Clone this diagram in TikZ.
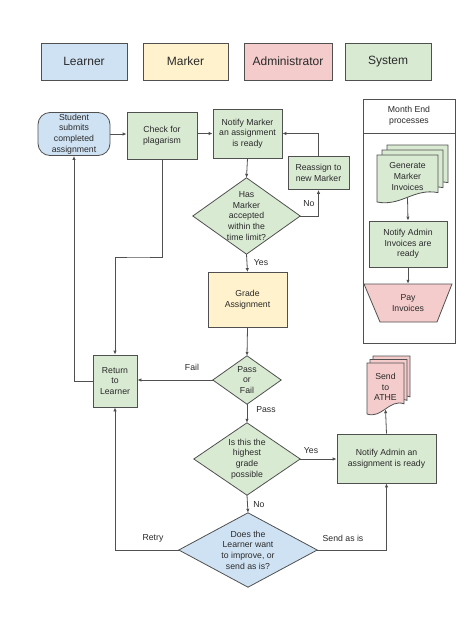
\documentclass[tikz,border=0pt]{standalone}
\usepackage{fontspec}
\setmainfont{Liberation Sans}
\usetikzlibrary{arrows.meta,calc}
\pgfdeclarelayer{bg}
\pgfsetlayers{bg,main}
\definecolor{lblue}{HTML}{CFE2F3}
\definecolor{lyellow}{HTML}{FFF2CC}
\definecolor{lred}{HTML}{F4CCCC}
\definecolor{lgreen}{HTML}{D9EAD3}
\definecolor{edgec}{HTML}{505050}
\definecolor{ink}{HTML}{2A2A2A}
\newcommand\docshape[5]{%
  \path[shp,fill=#5] ({#1},{#2}) -- ({#1+#3},{#2}) -- ({#1+#3},{#2+0.8*#4})
    .. controls ({#1+0.6*#3},{#2+0.7*#4}) and ({#1+0.4*#3},{#2+1.1*#4}) .. ({#1},{#2+#4}) -- cycle;}
\begin{document}
\begin{tikzpicture}[x=1pt,y=-1pt,
  font=\fontsize{8.7}{10.6}\selectfont, text=ink,
  shp/.style={draw=edgec,line width=0.8pt},
  legendbox/.style={draw=edgec,line width=0.9pt,minimum width=#1,minimum height=37,inner sep=0pt,font=\fontsize{12}{14}\selectfont},
  proc/.style={draw=edgec,line width=0.8pt,fill=lgreen,align=center,inner sep=0pt},
  txt/.style={align=center,inner sep=0pt},
  lab/.style={inner sep=0pt},
  arr/.style={draw=edgec,line width=0.8pt,-{Latex[length=4pt,width=3.4pt]}},
  ln/.style={draw=edgec,line width=0.8pt}
]
\useasboundingbox (0,0) rectangle (474,632);

% legend
\node[legendbox=86,fill=lblue] (lg1) at (84,61.5) {Learner};
\node[legendbox=85,fill=lyellow] (lg2) at (185.5,61.5) {Marker};
\node[legendbox=88,fill=lred] (lg3) at (288,61.5) {Administrator};
\node[legendbox=86,fill=lgreen] (lg4) at (388,61.5) {System};

% main flow
\node[proc,fill=lblue,rounded corners=12pt,minimum width=72,minimum height=43] (student) at (74,134) {Student\\submits\\completed\\assignment};
\node[proc,minimum width=70,minimum height=47] (check) at (162,135.5) {Check for\\plagarism};
\node[proc,minimum width=69,minimum height=49] (notify) at (247.5,133.5) {Notify Marker\\an assignment\\is ready};
\node[txt,minimum width=107,minimum height=76] (has) at (246.5,216) {Has\\Marker\\accepted\\within the\\time limit?};
\node[proc,minimum width=61,minimum height=33] (reassign) at (318.5,173) {Reassign to\\new Marker};
\node[proc,fill=lyellow,minimum width=79,minimum height=55] (grade) at (247.5,300) {Grade\\Assignment};
\node[txt,minimum width=68,minimum height=48] (passfail) at (247,380) {Pass\\or\\Fail};
\node[proc,minimum width=44,minimum height=52] (return) at (115,381) {Return\\to\\Learner};
\node[txt,minimum width=106,minimum height=72] (highest) at (247,459) {Is this the\\highest\\grade\\possible};
\node[proc,minimum width=99,minimum height=49] (nadmin) at (386.5,458.5) {Notify Admin an\\assignment is ready};
\node[txt,minimum width=36,minimum height=44] (send) at (385.5,387) {Send\\to\\ATHE};
\node[txt,minimum width=138,minimum height=74] (does) at (248,550) {Does the\\Learner want\\to improve, or\\send as is?};

% month end
\draw[ln,line width=0.9pt] (363,99) rectangle (455,343);
\draw[ln,line width=0.9pt] (363,133) -- (455,133);
\node[txt] (month) at (409,116) {Month End\\processes};
\node[txt,minimum width=56,minimum height=41.6] (gen) at (407.5,176.5) {Generate\\Marker\\Invoices};
\node[proc,minimum width=78,minimum height=46] (ninv) at (408,244) {Notify Admin\\Invoices are\\ready};
\node[txt,minimum width=56,minimum height=38] (pay) at (408,303) {Pay\\Invoices};

% background shapes
\begin{pgfonlayer}{bg}
\fill[white] (0,0) rectangle (474,632);
\path[shp,fill=lgreen] (has.north) -- (has.east) -- (has.south) -- (has.west) -- cycle;
\path[shp,fill=lgreen] (passfail.north) -- (passfail.east) -- (passfail.south) -- (passfail.west) -- cycle;
\path[shp,fill=lgreen] (highest.north) -- (highest.east) -- (highest.south) -- (highest.west) -- cycle;
\path[shp,fill=lblue] (does.north) -- (does.east) -- (does.south) -- (does.west) -- cycle;
\docshape{387}{145}{61}{47}{lgreen}
\docshape{382}{150}{61}{47}{lgreen}
\docshape{377}{155}{61}{47}{lgreen}
\docshape{373}{356}{37}{51}{lred}
\docshape{370}{359.5}{37}{51}{lred}
\docshape{367}{363}{37}{51}{lred}
\path[shp,fill=lred] (364,284) -- (452,284) -- (437,322) -- (380,322) -- cycle;
\end{pgfonlayer}

% connectors
\coordinate (jc) at (138,257);
\draw[arr] (student.east) -- (check.west |- student.east);
\draw[arr] (check.east |- notify.west) -- (notify.west);
\draw[arr] (notify.south) -- (has.north);
\draw[arr] (has.east) -| (reassign.south);
\draw[arr] (reassign.north) |- (notify.east);
\draw[arr] (has.south) -- (grade.north);
\draw[arr] (grade.south) -- (passfail.north);
\draw[arr] (passfail.west) -- (return.east |- passfail.west);
\draw[arr] (check.south) |- (jc) -| (return.north);
\draw[arr] (return.west) -| (student.south);
\draw[arr] (passfail.south) -- (highest.north);
\draw[arr] (highest.east) -- (nadmin.west |- highest.east);
\draw[arr] (nadmin.north) -- (send.south);
\draw[arr] (highest.south) -- (does.north);
\draw[arr] (does.west) -| (return.south);
\draw[arr] (does.east) -| (nadmin.south);
\draw[arr] (gen.south) -- (ninv.north);
\draw[arr] (ninv.south) -- (pay.north);

% labels
\node[lab] (lno1) at (309,204) {No};
\node[lab] (lyes1) at (261,263) {Yes};
\node[lab] (lfail) at (192,367) {Fail};
\node[lab] (lpass) at (266,410) {Pass};
\node[lab] (lyes2) at (311,451) {Yes};
\node[lab] (lno2) at (259,505) {No};
\node[lab] (lretry) at (153,538) {Retry};
\node[lab] (lsend) at (343,538) {Send as is};
\end{tikzpicture}
\end{document}
